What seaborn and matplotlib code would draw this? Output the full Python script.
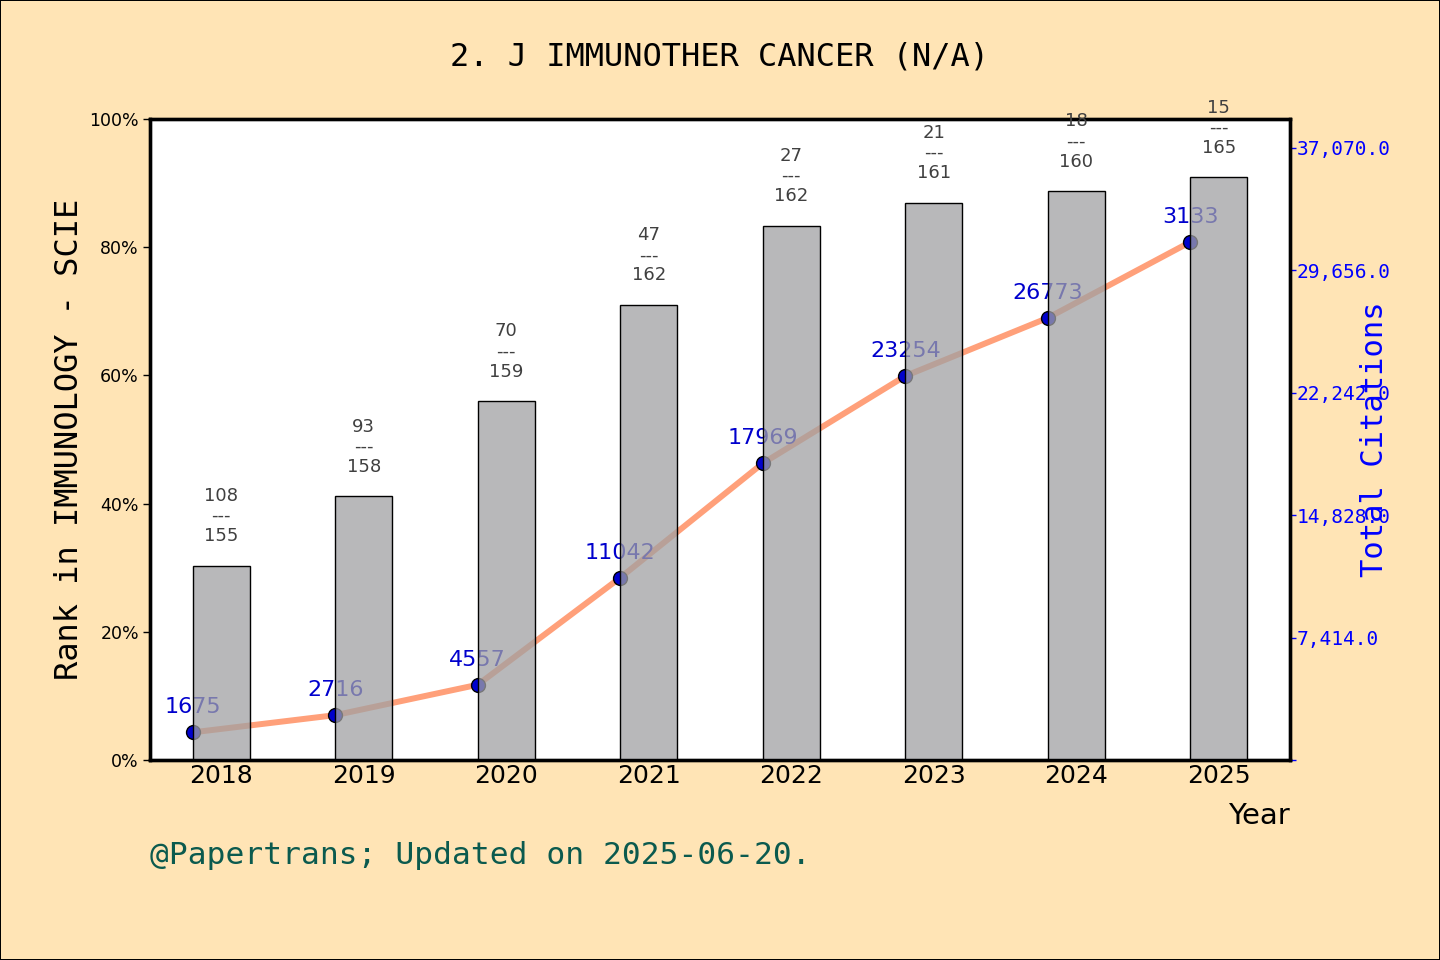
import numpy as np
import matplotlib
matplotlib.use("Agg")
import matplotlib.pyplot as plt
from matplotlib.ticker import FixedLocator, PercentFormatter
import seaborn as sns

sns.set_style("white")
plt.rcParams["text.color"] = "black"
plt.rcParams["axes.labelcolor"] = "black"
plt.rcParams["xtick.color"] = "black"
plt.rcParams["ytick.color"] = "black"

MONO = ["DejaVu Sans Mono"]
SANS = ["DejaVu Sans"]

# Data
years = ["2018", "2019", "2020", "2021", "2022", "2023", "2024", "2025"]
ranks = [108, 93, 70, 47, 27, 21, 18, 15]
totals = [155, 158, 159, 162, 162, 161, 160, 165]
citations = [1675, 2716, 4557, 11042, 17969, 23254, 26773, 31370]
citation_labels = ["1675", "2716", "4557", "11042", "17969", "23254", "26773", "3133"]
cit_ticks = [0, 7414, 14828, 22242, 29656, 37070]
cit_top = 38820

pct = [100 * (1 - r / t) for r, t in zip(ranks, totals)]
pos = np.arange(len(years))

fig = plt.figure(figsize=(14.4, 9.6), dpi=100, facecolor="#FFE4B5",
                 edgecolor="black", linewidth=1.2)
ax = fig.add_axes([150 / 1440, 1 - 760 / 960, 1140 / 1440, 641 / 960])
ax2 = ax.twinx()

# line axis sits behind the bars
ax.set_zorder(ax2.get_zorder() + 1)
ax.patch.set_visible(False)
ax2.patch.set_visible(True)
ax2.patch.set_facecolor("white")

# Citations line (behind)
sns.lineplot(x=pos - 0.2, y=citations, ax=ax2, color="#FFA07A", linewidth=4.3,
             marker="o", markersize=10, markerfacecolor="#0000CD",
             markeredgecolor="black", markeredgewidth=1, legend=False)
for x, y, lab in zip(pos - 0.2, citations, citation_labels):
    ax2.text(x, y + 900, lab, color="#0000CD", fontsize=16, ha="center",
             va="bottom", family=SANS)
ax2.set_ylim(0, cit_top)
ax2.yaxis.set_major_locator(FixedLocator(cit_ticks))
ax2.set_yticklabels([""] + [f"{v:,.1f}" for v in cit_ticks[1:]])
ax2.tick_params(axis="y", colors="#0000FF", labelsize=14, length=4, width=1,
                direction="out", pad=1)
for t in ax2.get_yticklabels():
    t.set_family(MONO)
ax2.set_ylabel("Total Citations", color="#0000FF", fontsize=22, family=MONO,
               labelpad=-22)

# Rank bars (front)
sns.barplot(x=pos, y=pct, ax=ax, color="#A0A0A2", width=0.4,
            saturation=1, edgecolor="black", linewidth=1, native_scale=True)
for p in ax.patches:
    p.set_facecolor((0.63, 0.63, 0.64, 0.75))
    p.set_edgecolor("black")
for x, h, r, t in zip(pos, pct, ranks, totals):
    ax.text(x, h + 3.2, f"{r}\n---\n{t}", ha="center", va="bottom",
            color="#404040", fontsize=13, family=SANS, linespacing=1.15)

ax.set_xlim(-0.5, len(years) - 0.5)
ax.set_ylim(0, 100)
ax.set_xticks(pos)
ax.set_xticklabels(years)
ax.set_xticks(pos[:-1] + 0.5, minor=True)
ax.tick_params(axis="x", which="major", length=0, labelsize=18, pad=3)
ax.tick_params(axis="x", which="minor", length=5, width=1, direction="in")
ax.yaxis.set_major_formatter(PercentFormatter(decimals=0))
ax.set_yticks([0, 20, 40, 60, 80, 100])
ax.tick_params(axis="y", labelsize=12.5, length=5, width=1, direction="out",
               left=True, pad=3)
ax.set_ylabel("Rank in IMMUNOLOGY - SCIE", fontsize=23, family=MONO, labelpad=3)
ax.set_xlabel("Year", fontsize=21, loc="right", labelpad=10)

for a in (ax, ax2):
    for s in a.spines.values():
        s.set_linewidth(2.4)
        s.set_color("black")

fig.text(720 / 1440, 1 - 57 / 960, "2. J IMMUNOTHER CANCER (N/A)",
         ha="center", va="center", fontsize=23, family=MONO)
fig.text(150 / 1440, 1 - 855 / 960, "@Papertrans; Updated on 2025-06-20.",
         ha="left", va="center", fontsize=22.5, family=MONO, color="#0B5A4E")

fig.savefig("out.png", dpi=100, facecolor=fig.get_facecolor(),
            edgecolor=fig.get_edgecolor())
